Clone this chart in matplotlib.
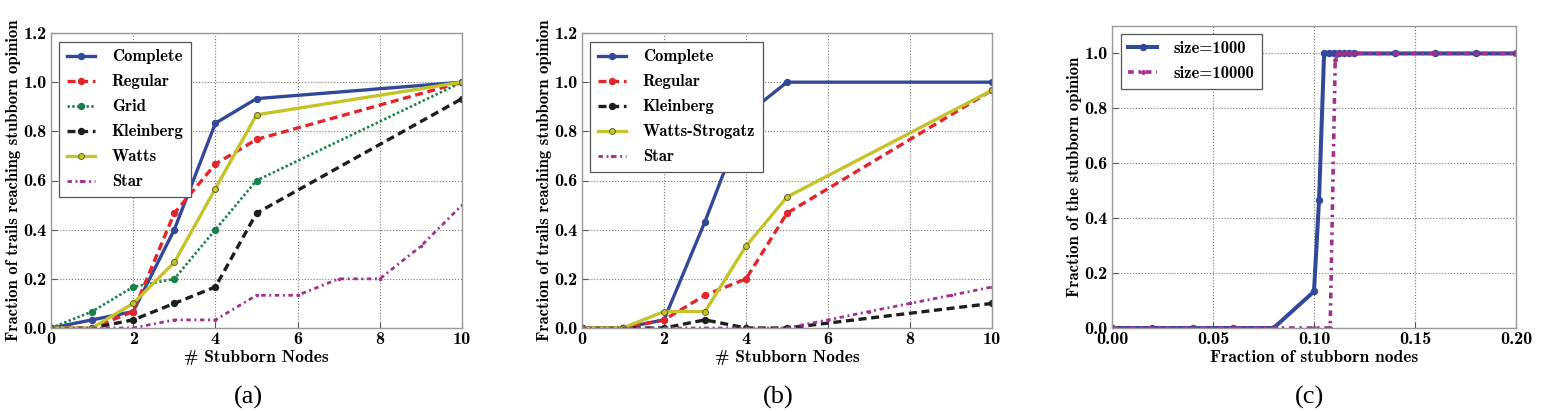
import numpy as np
import matplotlib
matplotlib.use("Agg")
import matplotlib.pyplot as plt

# ============== CONFIG ==============
OUT_FILE = "out.png"
FONT     = ["cmb10", "DejaVu Serif"]
# ====================================

# --- (a) ---
x_a          = [0, 1, 2, 3, 4, 5, 10]
a_complete   = [0.0, 0.033, 0.067, 0.40, 0.833, 0.933, 1.0]
a_regular    = [0.0, 0.0, 0.067, 0.467, 0.667, 0.767, 1.0]
a_grid       = [0.0, 0.067, 0.167, 0.20, 0.40, 0.60, 1.0]
a_kleinberg  = [0.0, 0.0, 0.033, 0.10, 0.167, 0.467, 0.933]
a_watts      = [0.0, 0.0, 0.10, 0.267, 0.567, 0.867, 1.0]
x_a_star     = [0, 1, 2, 3, 4, 5, 6, 7, 8, 9, 10]
a_star       = [0.0, 0.0, 0.0, 0.033, 0.033, 0.133, 0.133, 0.20, 0.20, 0.333, 0.50]

# --- (b) ---
x_b          = [0, 1, 2, 3, 4, 5, 10]
b_complete   = [0.0, 0.0, 0.033, 0.433, 0.867, 1.0, 1.0]
b_regular    = [0.0, 0.0, 0.033, 0.133, 0.20, 0.467, 0.967]
b_kleinberg  = [0.0, 0.0, 0.0, 0.033, 0.0, 0.0, 0.10]
b_watts      = [0.0, 0.0, 0.067, 0.067, 0.333, 0.533, 0.967]
x_b_star     = [0, 1, 2, 3, 4, 5, 6, 7, 8, 9, 10]
b_star       = [0.0, 0.0, 0.0, 0.0, 0.0, 0.0, 0.033, 0.067, 0.10, 0.133, 0.167]

# --- (c) ---
x_c1000  = [0.0, 0.02, 0.04, 0.06, 0.08, 0.10, 0.1025, 0.105, 0.1075, 0.11,
            0.1125, 0.115, 0.1175, 0.12, 0.14, 0.16, 0.18, 0.20]
c_1000   = [0.0, 0.0, 0.0, 0.0, 0.0, 0.133, 0.467, 1.0, 1.0, 1.0,
            1.0, 1.0, 1.0, 1.0, 1.0, 1.0, 1.0, 1.0]
x_c10000 = [0.0, 0.02, 0.04, 0.06, 0.08, 0.10, 0.108, 0.1105, 0.112, 0.114,
            0.116, 0.118, 0.12, 0.14, 0.16, 0.18, 0.20]
c_10000  = [0.0, 0.0, 0.0, 0.0, 0.0, 0.0, 0.0, 0.975, 1.0, 1.0,
            1.0, 1.0, 1.0, 1.0, 1.0, 1.0, 1.0]

BLUE    = "#34489a"
RED     = "#e3262c"
GREEN   = "#18804a"
BLACK   = "#1e1e1e"
YELLOW  = "#c4c42a"
MAGENTA = "#a2308f"

LW = 2.4
MS = 4.3

DASH   = (2.4, 1.4)
DOT    = (0.9, 0.9)
DASHDT = (1.6, 1.3, 0.7, 1.3)


def style_axes(ax, xlabel, ylabel):
    ax.grid(True, linestyle=":", color="#777777", linewidth=0.8)
    ax.tick_params(direction="in", labelsize=13, length=4, color="#555555", pad=3)
    for s in ax.spines.values():
        s.set_color("#9a9a9a")
        s.set_linewidth(1.0)
    ax.set_xlabel(xlabel, fontsize=12.5, labelpad=2)
    ax.set_ylabel(ylabel, fontsize=12, labelpad=2)
    for lab in ax.get_xticklabels() + ax.get_yticklabels():
        lab.set_family(FONT)


def legend(ax, bbox):
    leg = ax.legend(loc="upper left", bbox_to_anchor=bbox, borderaxespad=0.0,
                    fontsize=12, fancybox=False, handlelength=1.7,
                    handletextpad=1.0, labelspacing=0.6, borderpad=0.45,
                    framealpha=1.0)
    leg.get_frame().set_edgecolor("#555555")
    leg.get_frame().set_linewidth(0.9)
    return leg


def panel_a(ax):
    ax.plot(x_a, a_complete, "-", color=BLUE, lw=LW, marker="o", ms=MS, label="Complete")
    ax.plot(x_a, a_regular, "--", dashes=DASH, color=RED, lw=LW, marker="o", ms=MS,
            label="Regular")
    ax.plot(x_a, a_grid, ":", dashes=DOT, color=GREEN, lw=1.9, marker="o", ms=MS,
            label="Grid")
    ax.plot(x_a, a_kleinberg, "--", dashes=DASH, color=BLACK, lw=LW, marker="o", ms=MS,
            label="Kleinberg")
    ax.plot(x_a, a_watts, "-", color=YELLOW, lw=LW, marker="o", ms=MS,
            mec="#55551a", mew=0.6, label="Watts")
    ax.plot(x_a_star, a_star, "-.", dashes=DASHDT, color=MAGENTA, lw=2.0, marker="o",
            ms=1.5, label="Star")
    ax.set_xlim(0, 10)
    ax.set_ylim(0, 1.2)
    ax.set_xticks([0, 2, 4, 6, 8, 10])
    ax.set_yticks(np.arange(0, 1.21, 0.2))
    ax.set_yticklabels(["0.0", "0.2", "0.4", "0.6", "0.8", "1.0", "1.2"])
    style_axes(ax, "# Stubborn Nodes", "Fraction of trails reaching stubborn opinion")
    legend(ax, (0.02, 0.97))


def panel_b(ax):
    ax.plot(x_b, b_complete, "-", color=BLUE, lw=LW, marker="o", ms=MS, label="Complete")
    ax.plot(x_b, b_regular, "--", dashes=DASH, color=RED, lw=LW, marker="o", ms=MS,
            label="Regular")
    ax.plot(x_b, b_kleinberg, "--", dashes=DASH, color=BLACK, lw=LW, marker="o", ms=MS,
            label="Kleinberg")
    ax.plot(x_b, b_watts, "-", color=YELLOW, lw=LW, marker="o", ms=MS,
            mec="#55551a", mew=0.6, label="Watts-Strogatz")
    ax.plot(x_b_star, b_star, "-.", dashes=DASHDT, color=MAGENTA, lw=2.0, marker="o",
            ms=1.5, label="Star")
    ax.set_xlim(0, 10)
    ax.set_ylim(0, 1.2)
    ax.set_xticks([0, 2, 4, 6, 8, 10])
    ax.set_yticks(np.arange(0, 1.21, 0.2))
    ax.set_yticklabels(["0.0", "0.2", "0.4", "0.6", "0.8", "1.0", "1.2"])
    style_axes(ax, "# Stubborn Nodes", "Fraction of trails reaching stubborn opinion")
    legend(ax, (0.02, 0.97))


def panel_c(ax):
    ax.plot(x_c1000, c_1000, "-", color=BLUE, lw=LW + 0.5, marker="o", ms=MS,
            label="size=1000")
    ax.plot(x_c10000, c_10000, "-.", dashes=DASHDT, color=MAGENTA, lw=LW + 0.2,
            marker="o", ms=2.5, label="size=10000")
    ax.set_xlim(0, 0.2)
    ax.set_ylim(0, 1.1)
    ax.set_xticks([0.0, 0.05, 0.10, 0.15, 0.20])
    ax.set_xticklabels(["0.00", "0.05", "0.10", "0.15", "0.20"])
    ax.set_yticks(np.arange(0, 1.01, 0.2))
    ax.set_yticklabels(["0.0", "0.2", "0.4", "0.6", "0.8", "1.0"])
    style_axes(ax, "Fraction of stubborn nodes", "Fraction of the stubborn opinion")
    legend(ax, (0.022, 0.975))


def main():
    plt.rcParams["font.family"] = FONT
    plt.rcParams["axes.unicode_minus"] = False
    fig = plt.figure(figsize=(15.58, 4.12), dpi=100)
    W, H = 1558.0, 412.0
    # axes boxes in pixels: left, top, right, bottom
    boxes = [(51, 33, 462, 328), (582, 33, 992, 328), (1112, 26, 1516, 328)]
    axs = []
    for l, t, r, b in boxes:
        axs.append(fig.add_axes([l / W, 1 - b / H, (r - l) / W, (b - t) / H]))
    panel_a(axs[0])
    panel_b(axs[1])
    panel_c(axs[2])

    for x, s in [(248, "(a)"), (778, "(b)"), (1309, "(c)")]:
        fig.text(x / W, 1 - 397 / H, s, ha="center", va="center", fontsize=19,
                 family=["Liberation Serif", "DejaVu Serif"])

    fig.savefig(OUT_FILE, dpi=100)
    plt.close(fig)


if __name__ == "__main__":
    main()
